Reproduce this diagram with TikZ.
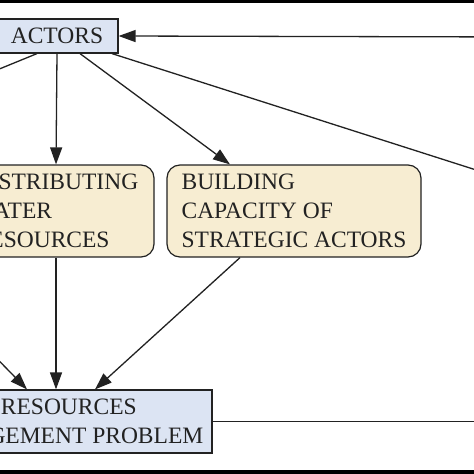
\documentclass[tikz,border=0pt]{standalone}
\usepackage{fontspec}
\setmainfont{Liberation Serif}
\usetikzlibrary{arrows.meta}
\definecolor{boxblue}{HTML}{DCE4F3}
\definecolor{boxcream}{HTML}{F7EDD2}
\definecolor{ink}{HTML}{222222}
\tikzset{
  bluebox/.style={draw=ink, line width=1.2pt, fill=boxblue, text=ink, inner xsep=0pt, inner ysep=0pt, font=\fontsize{23.5}{29}\selectfont},
  creambox/.style={draw=ink, line width=1.2pt, fill=boxcream, text=ink, rounded corners=13pt, inner xsep=0pt, inner ysep=0pt, align=left, font=\fontsize{23.5}{29}\selectfont},
  conn/.style={draw=ink, line width=1.3pt},
  arr/.style={conn, -{Triangle[length=17pt,width=12pt]}}
}
\begin{document}
\begin{tikzpicture}[x=1pt,y=-1pt]
\useasboundingbox (0,0) rectangle (474,474);
\clip (0,0) rectangle (474,474);
\fill[white] (0,0) rectangle (474,474);
% nodes
\node[bluebox, minimum width=122pt, minimum height=34pt] (actors) at (57,36) {ACTORS};
\node[creambox, minimum width=196pt, minimum height=92pt] (distrib) at (56,211) {DISTRIBUTING\\WATER\\RESOURCES};
\node[creambox, minimum width=254pt, minimum height=92pt] (build) at (294,211) {BUILDING\\CAPACITY OF\\STRATEGIC ACTORS};
\node[bluebox, align=left, minimum width=304pt, minimum height=63pt] (water) at (60,421.5) {WATER RESOURCES\\MANAGEMENT PROBLEM};
% off-canvas ends
\coordinate (topin) at (520,37);
\coordinate (leftout) at (-30,81);
\coordinate (rightout) at (520,184);
\coordinate (leftin) at (-30,331);
\coordinate (rightwater) at (520,421.5);
% connectors
\draw[arr] (topin) -- (actors.east);
\draw[conn] ([xshift=-20pt]actors.south) -- (leftout);
\draw[arr] (actors.south) -- (distrib.north);
\draw[arr] ([xshift=23pt]actors.south) -- ([xshift=-64pt]build.north);
\draw[conn] ([xshift=55pt]actors.south) -- (rightout);
\draw[arr] (distrib.south) -- (distrib.south |- water.north);
\draw[arr] ([xshift=-54pt]build.south) -- ([xshift=35pt]water.north);
\draw[arr] (leftin) -- ([xshift=-33pt]water.north);
\draw[conn] (water.east) -- (rightwater);
% frame bars
\fill[black] (0,0) rectangle (474,3);
\fill[black] (0,470) rectangle (474,474);
\end{tikzpicture}
\end{document}
